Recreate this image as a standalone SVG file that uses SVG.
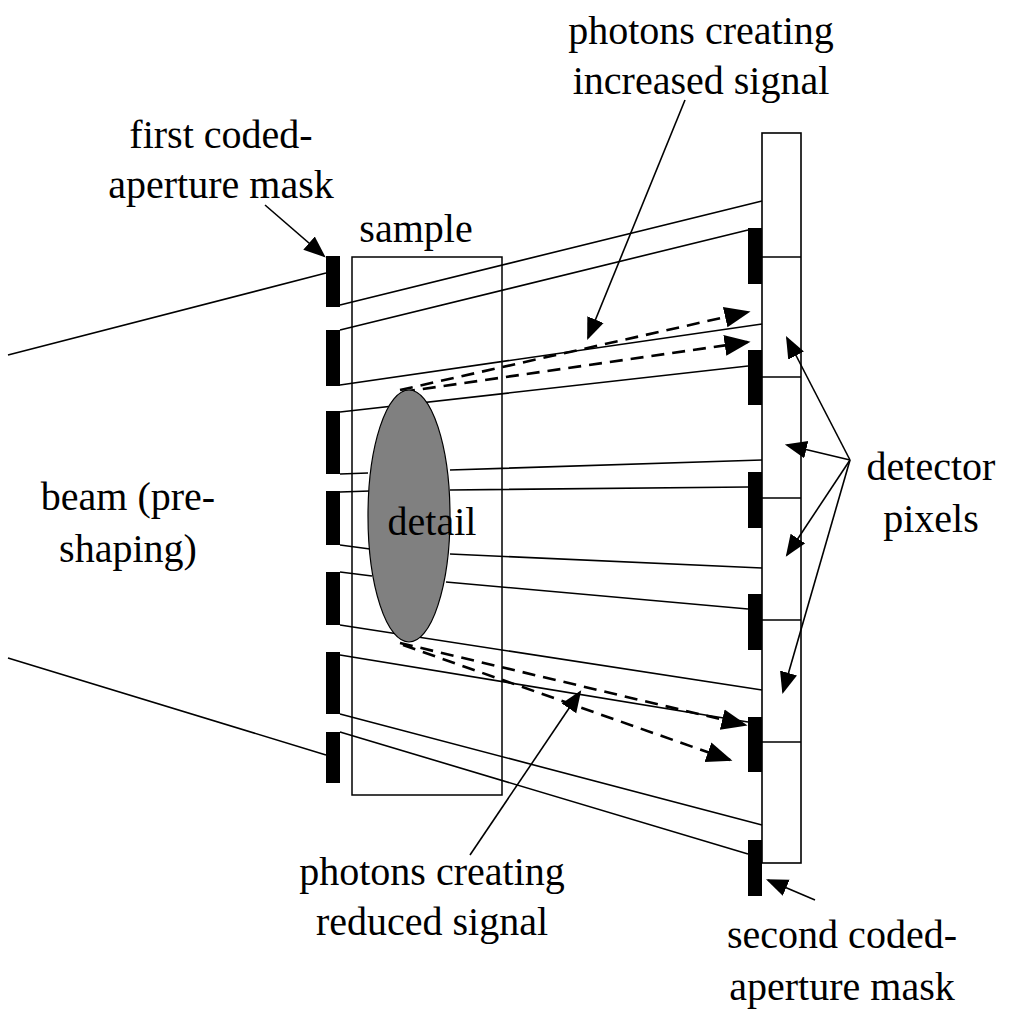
<svg xmlns="http://www.w3.org/2000/svg" width="1024" height="1020" viewBox="0 0 1024 1020">
<defs>
<marker id="ahb" viewBox="0 0 10 10" refX="9" refY="5" markerWidth="26" markerHeight="26" markerUnits="userSpaceOnUse" orient="auto"><path d="M0,1L10,5L0,9z" fill="#000"/></marker>
<marker id="ahm" viewBox="0 0 10 10" refX="9" refY="5" markerWidth="22" markerHeight="22" markerUnits="userSpaceOnUse" orient="auto"><path d="M0,1L10,5L0,9z" fill="#000"/></marker>
</defs>
<style>
text{font-family:"Liberation Serif","Times New Roman","DejaVu Serif",serif;font-size:40px;fill:#000;text-anchor:middle}
.r{stroke:#000;stroke-width:1.6;fill:none}
.d{stroke:#000;stroke-width:2.6;stroke-dasharray:13,8;fill:none}
.m{fill:#000}
</style>
<rect width="1024" height="1020" fill="#fff"/>
<g id="sample"><rect x="352" y="257" width="150" height="538" fill="none" stroke="#000" stroke-width="1.5"/></g>
<g id="detector">
<rect x="762" y="133" width="39" height="730" fill="#fff" stroke="#000" stroke-width="1.6"/>
<path class="r" d="M762,257H801M762,377H801M762,498H801M762,620H801M762,742H801"/>
</g>
<g id="connectors">
<path class="r" d="M8,355L326,273M8,658L326,755"/>
<path class="r" d="M340,305L762,201M340,330L748,230M340,385L762,324M340,412L748,366"/>
<path class="r" d="M340,474L368,473M450,470L762,460M340,492L370,491M450,490L748,487"/>
<path class="r" d="M340,545L370,549M450,554L762,568M340,572L372,576M446,582L748,609"/>
<path class="r" d="M340,625L762,690M340,655L748,722M340,714L762,825M340,732L748,854"/>
<path class="d" d="M400,390L748,312" marker-end="url(#ahb)"/>
<path class="d" d="M402,392L748,342" marker-end="url(#ahb)"/>
<path class="d" d="M400,643L745,725" marker-end="url(#ahb)"/>
<path class="d" d="M403,645L730,760" marker-end="url(#ahb)"/>
<path class="r" d="M850,460L787,338" marker-end="url(#ahm)"/>
<path class="r" d="M850,460L787,445" marker-end="url(#ahm)"/>
<path class="r" d="M850,460L787,555" marker-end="url(#ahm)"/>
<path class="r" d="M850,460L783,692" marker-end="url(#ahm)"/>
<path class="r" d="M265,205L324,256" marker-end="url(#ahm)"/>
<path class="r" d="M685,100L588,338" marker-end="url(#ahm)"/>
<path class="r" d="M470,855L580,692" marker-end="url(#ahm)"/>
<path class="r" d="M815,900L768,880" marker-end="url(#ahm)"/>
</g>
<g id="mask1">
<rect class="m" x="326" y="256" width="14" height="51"/>
<rect class="m" x="326" y="330" width="14" height="56"/>
<rect class="m" x="326" y="411" width="14" height="63"/>
<rect class="m" x="326" y="491" width="14" height="54"/>
<rect class="m" x="326" y="572" width="14" height="53"/>
<rect class="m" x="326" y="652" width="14" height="62"/>
<rect class="m" x="326" y="732" width="14" height="51"/>
</g>
<g id="detail"><ellipse cx="409" cy="516" rx="41" ry="126" fill="#808080" stroke="#000" stroke-width="1.2"/><text x="432" y="535">detail</text></g>
<g id="mask2">
<rect class="m" x="748" y="228" width="14" height="56"/>
<rect class="m" x="748" y="350" width="14" height="55"/>
<rect class="m" x="748" y="472" width="14" height="56"/>
<rect class="m" x="748" y="594" width="14" height="56"/>
<rect class="m" x="748" y="717" width="14" height="55"/>
<rect class="m" x="748" y="840" width="14" height="56"/>
</g>
<g id="labels">
<text x="701" y="44">photons creating</text><text x="701" y="94">increased signal</text>
<text x="221" y="148">first coded-</text><text x="221" y="198">aperture mask</text>
<text x="416" y="242">sample</text>
<text x="128" y="510">beam (pre-</text><text x="128" y="562">shaping)</text>
<text x="931" y="480">detector</text><text x="931" y="532">pixels</text>
<text x="432" y="885">photons creating</text><text x="432" y="935">reduced signal</text>
<text x="842" y="948">second coded-</text><text x="842" y="1000">aperture mask</text>
</g>
</svg>
